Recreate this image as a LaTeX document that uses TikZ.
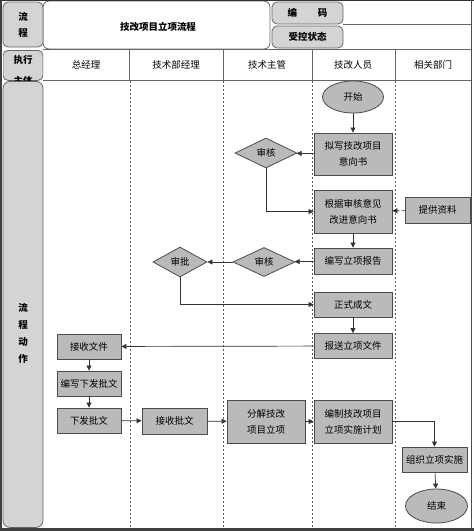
\documentclass[tikz,border=0pt]{standalone}
\usepackage{fontspec}
\newfontfamily\cjk{Noto Sans CJK SC}
\usetikzlibrary{arrows.meta,shapes.geometric}
\begin{document}
\begin{tikzpicture}[x=1pt,y=-1pt,
  every node/.style={font=\cjk\fontsize{9.5}{16}\selectfont},
  box/.style={draw=black!70, fill=black!27, line width=0.9pt, align=center, inner sep=0pt},
  dia/.style={diamond, draw=black!70, fill=black!27, line width=0.8pt, inner sep=0pt, aspect=2},
  oval/.style={ellipse, draw=black!70, fill=black!27, line width=0.8pt, inner sep=0pt},
  hdr/.style={draw=black!60, fill=black!17, rounded corners=5pt, line width=0.8pt, align=center, inner sep=0pt, font=\cjk\bfseries\fontsize{9.5}{16}\selectfont},
  arr/.style={draw=black!80, line width=0.7pt, -{Triangle[length=5pt,width=5pt]}},
  lane/.style={draw=black!65, line width=0.8pt, dash pattern=on 2pt off 2pt},
  sep/.style={draw=black!60, line width=0.8pt}
]
\useasboundingbox (0,0) rectangle (474,531);
\fill[white] (0,0) rectangle (474,531);
% header grid lines
\draw[sep] (43,49) -- (471,49);
\draw[sep] (43,80) -- (471,80);
\draw[sep] (343,24.5) -- (471,24.5);
\foreach \x in {129,223,312,395} \draw[sep] (\x,49) -- (\x,80);
% lane separators
\foreach \x in {130,223,312,395} \draw[lane] (\x,81) -- (\x,528);
% title area
\draw[draw=black!60, line width=0.8pt, rounded corners=6pt] (43,1) rectangle (270,49);
\node[font=\cjk\bfseries\fontsize{9.5}{16}\selectfont] (title) at (158,27) {技改项目立项流程};
% header gray boxes
\node[hdr, minimum width=40pt, minimum height=45pt] (flow) at (23,24.5) {流\\程};
\node[hdr, minimum width=71pt, minimum height=22pt] (code) at (307.5,13) {编\hspace{2.2em}码};
\node[hdr, minimum width=71pt, minimum height=22pt] (ctrl) at (307.5,37) {受控状态};
\begin{scope}
\clip (3,50) rectangle (43,80);
\node[hdr, minimum width=40pt, minimum height=30pt, anchor=north] (exec) at (23,50) {};
\node[font=\cjk\bfseries\fontsize{9.5}{16}\selectfont] (exec1) at (23,60) {执行};
\node[font=\cjk\bfseries\fontsize{9.5}{16}\selectfont] (exec2) at (23,81) {主体};
\end{scope}
\node[hdr, minimum width=40pt, minimum height=446pt, anchor=north, rounded corners=7pt] (leftcol) at (23,81) {};
\node[font=\cjk\bfseries\fontsize{9.5}{16}\selectfont, align=center] (act) at (23,333) {流\\[1pt]程\\[1pt]动\\[1pt]作};
% lane headers
\node (l1) at (86,65) {总经理};
\node (l2) at (176,65) {技术部经理};
\node (l3) at (267,65) {技术主管};
\node (l4) at (353,65) {技改人员};
\node (l5) at (433,65) {相关部门};
% outer frame
\draw[black!75, line width=2.5pt] (1.2,0) -- (1.2,529.5) -- (474,529.5);
\draw[black!80, line width=1pt] (0,0.5) -- (474,0.5);
\draw[black!70, line width=1pt] (471,0) -- (471,529);
% nodes
\node[oval, minimum width=61pt, minimum height=32pt] (start) at (353,97) {开始};
\node[box, minimum width=78pt, minimum height=42pt] (draft) at (353,154) {拟写技改项目\\意向书};
\node[dia, minimum width=62pt, minimum height=30pt] (rev1) at (266,153) {审核};
\node[box, minimum width=78pt, minimum height=43pt] (improve) at (353,211.5) {根据审核意见\\改进意向书};
\node[box, minimum width=65pt, minimum height=26pt] (provide) at (437.5,210) {提供资料};
\node[box, minimum width=78pt, minimum height=26pt] (report) at (353,261) {编写立项报告};
\node[dia, minimum width=62pt, minimum height=29pt] (rev2) at (264,262) {审核};
\node[dia, minimum width=54pt, minimum height=30pt] (appr) at (180,262) {审批};
\node[box, minimum width=78pt, minimum height=25pt] (formal) at (353,304.5) {正式成文};
\node[box, minimum width=78pt, minimum height=25pt] (submit) at (353,346) {报送立项文件};
\node[box, minimum width=64pt, minimum height=25pt] (recvf) at (89,346.5) {接收文件};
\node[box, minimum width=64pt, minimum height=25pt] (writea) at (89,383.5) {编写下发批文};
\node[box, minimum width=64pt, minimum height=25pt] (issue) at (89,420.5) {下发批文};
\node[box, minimum width=65pt, minimum height=26pt] (recva) at (174.5,421) {接收批文};
\node[box, minimum width=78pt, minimum height=43pt] (split) at (266,421.5) {分解技改\\项目立项};
\node[box, minimum width=78pt, minimum height=43pt] (plan) at (353,421.5) {编制技改项目\\立项实施计划};
\node[box, minimum width=65pt, minimum height=25pt] (org) at (434.5,459.5) {组织立项实施};
\node[oval, minimum width=62pt, minimum height=34pt] (end) at (436.5,506) {结束};
% connectors
\draw[arr] (start) -- (draft);
\draw[arr] (draft) -- (rev1);
\draw[arr] (rev1.south) |- (improve.west);
\draw[arr, dash pattern=on 3pt off 2pt] (provide) -- (improve);
\draw[arr] (improve) -- (report);
\draw[arr] (report) -- (rev2);
\draw[arr] (rev2) -- (appr);
\draw[arr] (appr.south) |- (formal.west);
\draw[arr] (formal) -- (submit);
\draw[arr] (submit) -- (recvf);
\draw[arr] (recvf) -- (writea);
\draw[arr] (writea) -- (issue);
\draw[arr] (issue) -- (recva);
\draw[arr] (recva) -- (split);
\draw[arr] (split) -- (plan);
\draw[arr] (plan.east) -| (org.north);
\draw[arr] (org) -- (end);
\end{tikzpicture}
\end{document}
